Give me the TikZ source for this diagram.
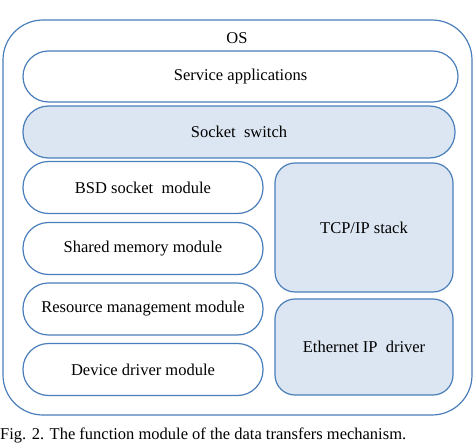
\documentclass[tikz,border=0pt]{standalone}
\usepackage{fontspec}
\setmainfont{Liberation Serif}
\definecolor{edge}{HTML}{4A7EBB}
\definecolor{shade}{HTML}{DCE6F2}

\begin{document}
\begin{tikzpicture}[x=1pt,y=-1pt,font=\fontsize{16.5}{19}\selectfont,
  pill/.style={draw=edge,line width=1.2pt,fill=white,inner sep=0pt,rounded corners=25.5pt},
  blk/.style={draw=edge,line width=1.2pt,fill=shade,inner sep=0pt,rounded corners=20pt}]
\useasboundingbox (0,0) rectangle (474,444);

%% outer frame
\node[draw=edge,line width=1.2pt,rounded corners=40pt,minimum width=469pt,minimum height=395pt,inner sep=0pt] (os) at (237.5,217.5) {};
\node (oslab) at (237,38) {OS};

%% full-width layers
\node[pill,minimum width=435pt,minimum height=51pt] (app) at (240.5,76.5) {Service applications};
\node[pill,fill=shade,minimum width=432pt,minimum height=52pt] (sw) at (239,132) {Socket\ \ switch};

%% left column
\foreach \n/\y/\t in {bsd/187.5/{BSD socket\ \ module},shm/248.5/{Shared memory module},res/309/{Resource management module},dev/369.5/{Device driver module}} {
  \node[pill,minimum width=240pt,minimum height=52pt] (\n) at (143,\y) {\t};
}

%% right column
\node[blk,minimum width=178pt,minimum height=129pt] (tcp) at (364,227.5) {TCP/IP stack};
\node[blk,minimum width=178pt,minimum height=96pt] (eth) at (364,347) {Ethernet IP\ \ driver};

%% caption
\node[anchor=west,inner sep=0pt,font=\fontsize{16.5}{19}\selectfont] (cap) at (0,435) {Fig. 2. The function module of the data transfers mechanism.};
\end{tikzpicture}
\end{document}
